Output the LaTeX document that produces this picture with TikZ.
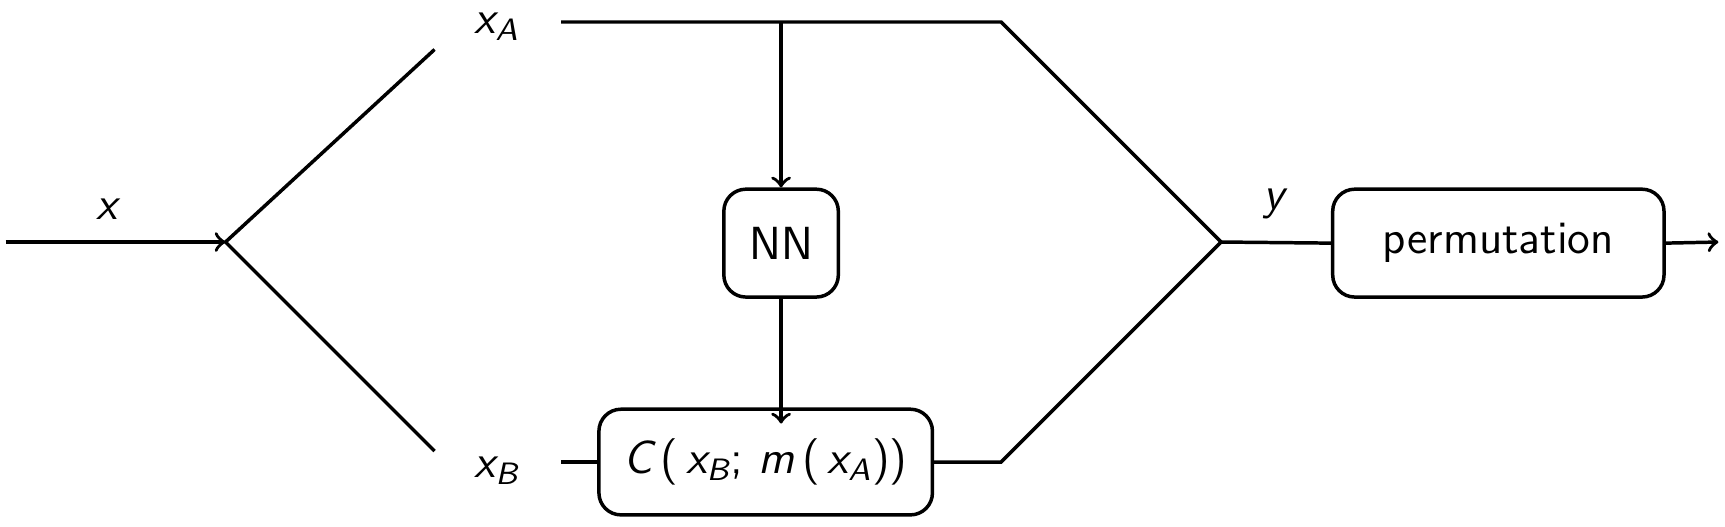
\documentclass[tikz,border=0pt]{standalone}
\begin{document}
\begin{tikzpicture}[x=0.01cm,y=-0.01cm,line width=0.9pt,font=\large\sffamily,
  box/.style={draw,rounded corners=0.2cm,inner sep=0pt,line width=0.9pt},
  lab/.style={font=\large\sffamily\itshape}]
\useasboundingbox (0,0) rectangle (1568,479);
\coordinate (in) at (5,220);
\coordinate (sp) at (205,220);
\coordinate (ua) at (395,45);
\coordinate (lb) at (395,410);
\coordinate (ta) at (510,20);
\coordinate (tm) at (710,20);
\coordinate (tr) at (910,20);
\coordinate (j) at (1110,220);
\coordinate (bl) at (510,420);
\coordinate (br) at (910,420);
\coordinate (out) at (1562,220);
\node[box,minimum width=1.04cm,minimum height=0.98cm] (nn) at (710,221) {NN};
\node[box,minimum width=3.03cm,minimum height=0.96cm] (c) at (696,420)
  {{\itshape C}\,(\,{\itshape x}\textsubscript{\itshape B}; {\itshape m}\,(\,{\itshape x}\textsubscript{\itshape A}))};
\node[box,minimum width=3.01cm,minimum height=0.98cm] (p) at (1362,221) {permutation};
\node[lab] (lx) at (97,190) {x};
\node[lab] (lxa) at (452,24) {x\textsubscript{A}};
\node[lab] (lxb) at (452,428) {x\textsubscript{B}};
\node[lab] (ly) at (1158,185) {y};
\draw[->] (in) -- (sp);
\draw (ua) -- (sp) -- (lb);
\draw (ta) -- (tr) -- (j);
\draw[->] (tm) -- (nn.north);
\draw[->] (nn.south) -- (710,385);
\draw (bl) -- (c.west);
\draw (c.east) -- (br) -- (j) -- (p.west);
\draw[->] (p.east) -- (out);
\end{tikzpicture}
\end{document}
